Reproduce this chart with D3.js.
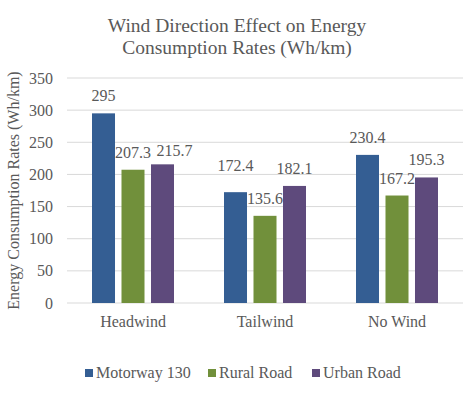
<!DOCTYPE html>
<html>
<head>
<meta charset="utf-8">
<script src="https://cdn.jsdelivr.net/npm/d3@7"></script>
<style>
  body { margin: 0; background: #fff; }
</style>
</head>
<body>
<svg id="chart" width="474" height="396"></svg>
<script>
// chart data
const categories = ['Headwind', 'Tailwind', 'No Wind'];
const seriesNames = ['Motorway 130', 'Rural Road', 'Urban Road'];
const motorway = [295, 172.4, 230.4];
const rural = [207.3, 135.6, 167.2];
const urban = [215.7, 182.1, 195.3];
const yTicks = [0, 50, 100, 150, 200, 250, 300, 350];
const colors = ['#345e93', '#71903b', '#5e4a7c'];

const FONT = '"Liberation Serif", "Times New Roman", serif';
const TXT = '#595959';

// hand-placed label shifts like in the original (dx, dy)
const labelNudge = {
    'Headwind|Urban Road': [12, 4],
    'Tailwind|Motorway 130': [0, -9]
};

const seriesValues = [motorway, rural, urban];
const rows = [];
categories.forEach(function(c, i) {
    seriesNames.forEach(function(s, j) {
        rows.push({cat: c, series: s, value: seriesValues[j][i]});
    });
});

const margin = {top: 78, right: 11, bottom: 93, left: 67};
const width = 474 - margin.left - margin.right;
const height = 396 - margin.top - margin.bottom;

const svg = d3.select('#chart').attr('font-family', FONT);

// title
svg.append('text').attr('x', 237).attr('y', 32).attr('text-anchor', 'middle')
    .attr('font-family', FONT).attr('fill', TXT)
    .attr('font-size', 19.5).text('Wind Direction Effect on Energy');
svg.append('text').attr('x', 237).attr('y', 54).attr('text-anchor', 'middle')
    .attr('font-family', FONT).attr('fill', TXT)
    .attr('font-size', 19.5).text('Consumption Rates (Wh/km)');

const chart = svg.append('g').attr('transform', 'translate(' + margin.left + ',' + margin.top + ')');

const x0 = d3.scaleBand().domain(categories).range([0, width]).paddingInner(0).paddingOuter(0);
const x1 = d3.scaleBand().domain(seriesNames).range([25, x0.bandwidth() - 25]).paddingInner(0.22);
const y = d3.scaleLinear().domain([0, 350]).range([height, 0]);

// gridlines
chart.append('g').selectAll('line').data(yTicks).enter().append('line')
    .attr('x1', 0).attr('x2', width)
    .attr('y1', function(d) { return y(d); }).attr('y2', function(d) { return y(d); })
    .attr('stroke', '#d9d9d9').attr('stroke-width', 1);

// y axis
const yAxis = chart.append('g').call(d3.axisLeft(y).tickValues(yTicks).tickSize(0).tickPadding(14));
yAxis.attr('font-family', FONT).attr('font-size', 16);
yAxis.select('.domain').remove();
yAxis.selectAll('text').attr('fill', TXT);

// x axis
const xAxis = chart.append('g').attr('transform', 'translate(0,' + height + ')')
    .call(d3.axisBottom(x0).tickSize(0).tickPadding(13));
xAxis.attr('font-family', FONT).attr('font-size', 16);
xAxis.select('.domain').remove();
xAxis.selectAll('text').attr('fill', TXT);

// bars
chart.append('g').selectAll('rect').data(rows).enter().append('rect')
    .attr('x', function(d) { return x0(d.cat) + x1(d.series); })
    .attr('y', function(d) { return y(d.value); })
    .attr('width', x1.bandwidth())
    .attr('height', function(d) { return height - y(d.value); })
    .attr('fill', function(d) { return colors[seriesNames.indexOf(d.series)]; });

// value labels
function nudge(d, k) {
    let n = labelNudge[d.cat + '|' + d.series];
    return n ? n[k] : 0;
}
chart.append('g').selectAll('text').data(rows).enter().append('text')
    .attr('x', function(d) { return x0(d.cat) + x1(d.series) + x1.bandwidth() / 2 + nudge(d, 0); })
    .attr('y', function(d) { return y(d.value) - 12 + nudge(d, 1); })
    .attr('text-anchor', 'middle')
    .attr('font-family', FONT).attr('font-size', 16).attr('fill', TXT)
    .text(function(d) { return d.value; });

// y title
svg.append('text')
    .attr('transform', 'translate(19,' + (margin.top + height / 2) + ') rotate(-90)')
    .attr('text-anchor', 'middle')
    .attr('font-family', FONT).attr('font-size', 16).attr('fill', TXT)
    .text('Energy Consumption Rates (Wh/km)');

// legend
const legendX = [85, 208, 312];
const legend = svg.append('g').selectAll('g').data(seriesNames).enter().append('g')
    .attr('transform', function(d, i) { return 'translate(' + legendX[i] + ',369)'; });
legend.append('rect').attr('width', 8).attr('height', 8)
    .attr('fill', function(d, i) { return colors[i]; });
legend.append('text').attr('x', 11).attr('y', 9)
    .attr('font-family', FONT).attr('font-size', 16).attr('fill', TXT)
    .text(function(d) { return d; });
</script>
</body>
</html>
